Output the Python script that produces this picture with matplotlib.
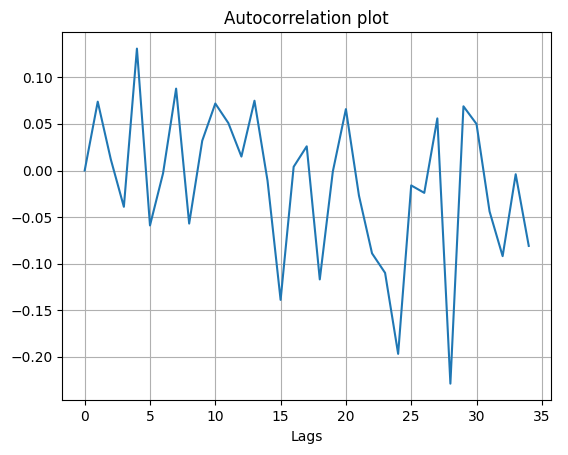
import matplotlib
matplotlib.use("Agg")
import matplotlib.pyplot as plt

lags = list(range(35))
acf = [0.0, 0.074, 0.012, -0.039, 0.131, -0.059, -0.003, 0.088, -0.057, 0.032,
       0.072, 0.051, 0.015, 0.075, -0.011, -0.139, 0.004, 0.026, -0.117, -0.001,
       0.066, -0.027, -0.089, -0.110, -0.197, -0.016, -0.024, 0.056, -0.229, 0.069,
       0.050, -0.044, -0.092, -0.004, -0.081]

fig, ax = plt.subplots(figsize=(5.68, 4.55), dpi=100)
ax.plot(lags, acf)
ax.set_title("Autocorrelation plot")
ax.set_xlabel("Lags")
ax.grid(True)
fig.subplots_adjust(left=0.11, right=0.97, top=0.93, bottom=0.12)
fig.savefig("out.png")
